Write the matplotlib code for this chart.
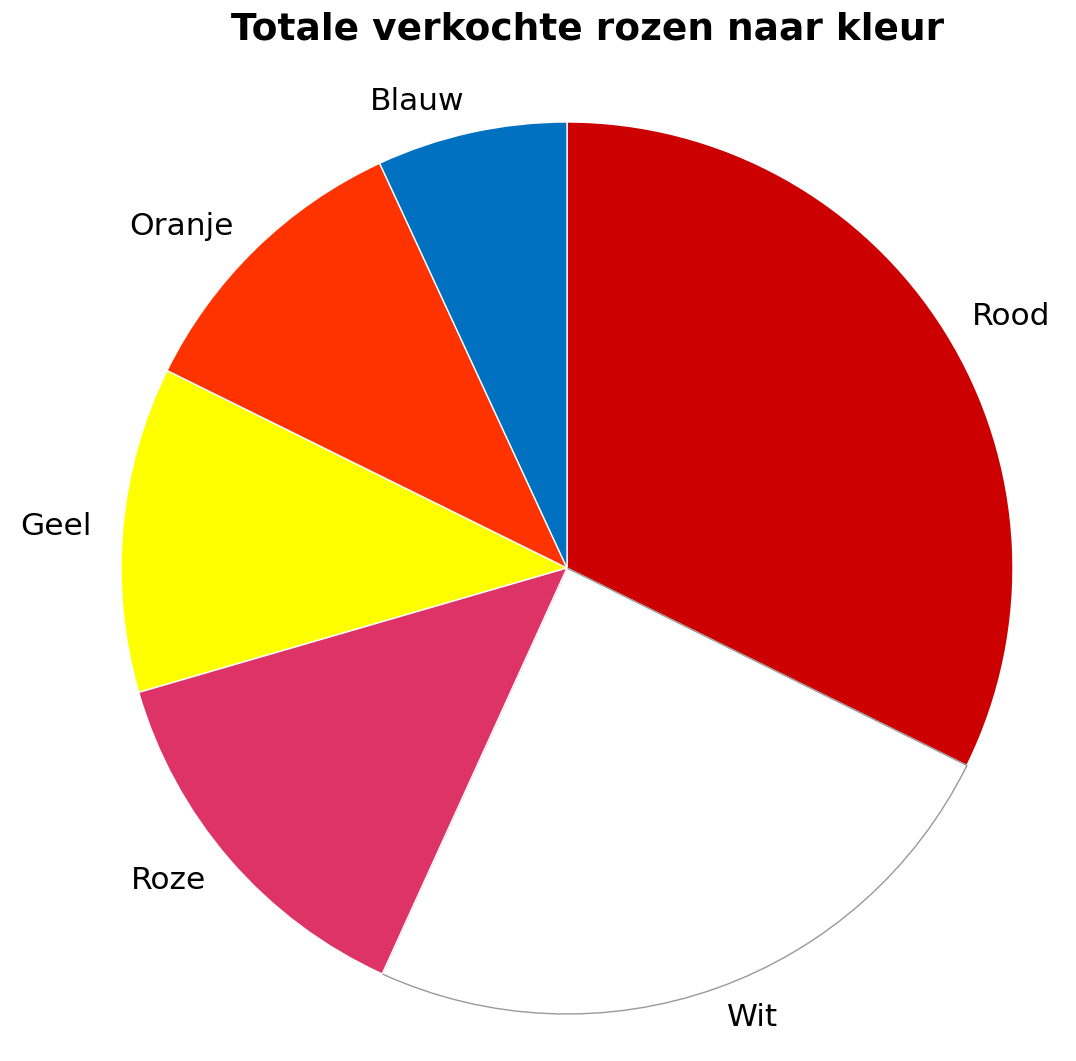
import matplotlib.pyplot as plt

# verkochte rozen per kleur (aandeel in %)
kleuren = ['Rood', 'Wit', 'Roze', 'Geel', 'Oranje', 'Blauw']
aantallen = [32.3, 24.5, 13.7, 11.8, 10.8, 6.9]
vulkleur = ['#CC0000', '#FFFFFF', '#DD3366', '#FFFF00', '#FF3300', '#0070C0']

fig = plt.figure(figsize=(10.76, 10.61), dpi=100)
# pie centre ~ (567, 568) px, radius ~446 px
ax = fig.add_axes([121 / 1076, 47 / 1061, 892 / 1076, 892 / 1061])

wedges, texts = ax.pie(aantallen, labels=kleuren, colors=vulkleur,
                       startangle=90, counterclock=False,
                       labeldistance=1.07,
                       wedgeprops=dict(edgecolor='white', linewidth=1),
                       textprops=dict(fontsize=22.5, color='black'))
# witte punt krijgt een grijze rand (behalve naar roze toe)
wedges[1].set_edgecolor('#999999')
wedges[1].set_linewidth(1)
wedges[1].set_zorder(2)
wedges[2].set_zorder(3)

ax.set_xlim(-1, 1)
ax.set_ylim(-1, 1)
ax.set_aspect('equal')
ax.axis('off')

fig.text(588 / 1076, 1 - 30 / 1061, 'Totale verkochte rozen naar kleur',
         ha='center', va='center', fontsize=27, fontweight='bold')

fig.savefig('out.png', dpi=100)
